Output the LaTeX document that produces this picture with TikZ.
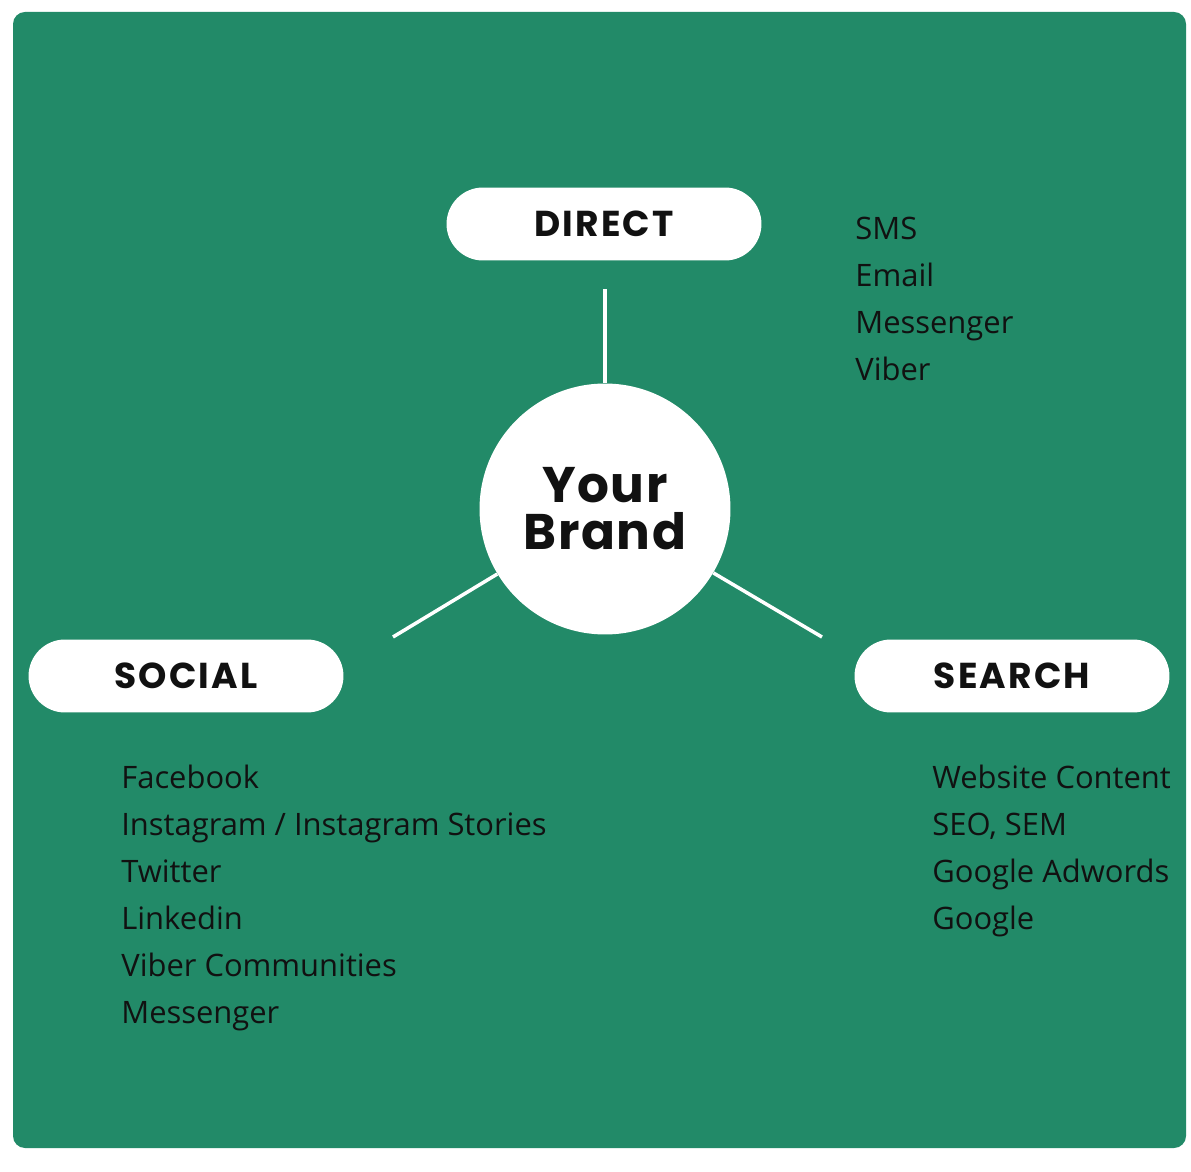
\documentclass[tikz,border=0pt]{standalone}
\usepackage{fontspec}
\setmainfont{Open Sans}
\newfontfamily\headfont{Poppins}[LetterSpace=6]
\newfontfamily\hubfont{Poppins}[LetterSpace=3]
\usepackage{xcolor}
\usepackage{tikz}
\usetikzlibrary{positioning, calc}
\definecolor{brandgreen}{RGB}{34, 138, 104}
\definecolor{inkblack}{RGB}{17, 17, 17}

\begin{document}
\begin{tikzpicture}[x=0.02cm, y=-0.02cm,
    pill/.style={fill=white, rounded corners=0.73cm, minimum width=6.3cm, minimum height=1.46cm,
        inner sep=0pt, text=inkblack, font=\headfont\bfseries\fontsize{20.5}{22}\selectfont},
    hub/.style={circle, fill=white, minimum size=5.02cm, inner sep=0pt, align=center,
        text=inkblack, font=\hubfont\bfseries\fontsize{28.5}{26.7}\selectfont},
    link/.style={white, line width=2pt},
    item/.style={anchor=base west, inner sep=0pt, text=inkblack, font=\fontsize{17.6}{20}\selectfont}]
    % Canvas
    \useasboundingbox (0,0) rectangle (1191,1172);
    \fill[brandgreen, rounded corners=0.24cm] (13,12) rectangle (1186,1148);

    % Centre
    \node[hub] (brand) at (605,509) {Your\\Brand};

    % Channels
    \node[pill] (direct) at (604,224) {DIRECT};
    \node[pill] (social) at (186,676) {SOCIAL};
    \node[pill] (search) at (1012,676) {SEARCH};

    % Spokes
    \coordinate (dtip) at (605,289);
    \coordinate (stip) at (393,637);
    \coordinate (rtip) at (822,637);
    \draw[link] (brand) -- (dtip);
    \draw[link] (brand) -- (stip);
    \draw[link] (brand) -- (rtip);

    % Lists
    \foreach \t [count=\i from 0] in {SMS, Email, Messenger, Viber}
        \node[item] (direct\i) at (855,240+47*\i) {\t};
    \foreach \t [count=\i from 0] in {Facebook, Instagram / Instagram Stories, Twitter, Linkedin, Viber Communities, Messenger}
        \node[item] (social\i) at (121,788+47*\i) {\t};
    \foreach \t [count=\i from 0] in {Website Content, {SEO, SEM}, Google Adwords, Google}
        \node[item] (search\i) at (932,788+47*\i) {\t};
\end{tikzpicture}
\end{document}
